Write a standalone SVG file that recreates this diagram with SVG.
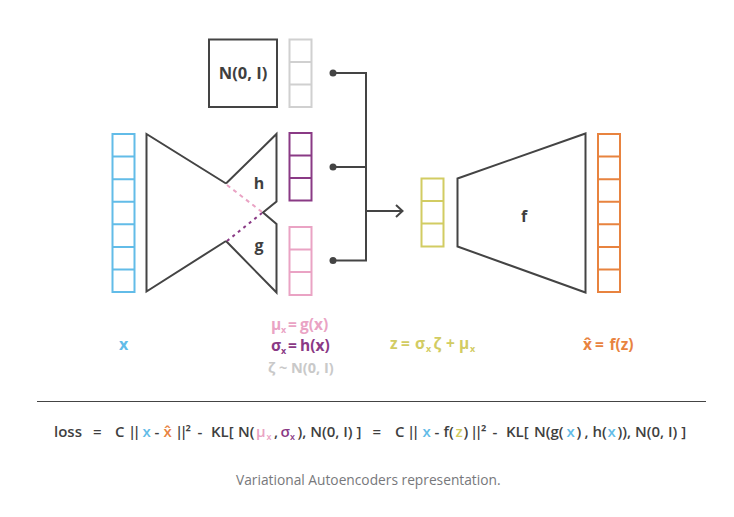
<svg xmlns="http://www.w3.org/2000/svg" width="734" height="517" viewBox="0 0 734 517">
<style>
text{font-family:"Open Sans","Noto Sans",sans-serif;font-weight:600;font-size:15px;fill:#3f3f3f}
.b{fill:#62bce8}.o{fill:#e8833f}.p{fill:#eaa3c4}.m{fill:#8a3a85}.g{fill:#c9c9c9}.y{fill:#d2cc62}
.s{font-size:9px}
.l{font-weight:700;font-size:15.5px}
.n{font-weight:700;font-size:16px}
.v{letter-spacing:-3.750px}
.shape{fill:none;stroke:#444;stroke-width:2}
.cell{fill:none;stroke-width:2}
.wire{fill:none;stroke:#444;stroke-width:2}
</style>
<g id="node-x"><path class="cell" stroke="#62bce8" d="M112.500 134h22v158h-22zM112.500 156.600h22M112.500 179.200h22M112.500 201.700h22M112.500 224.300h22M112.500 246.900h22M112.500 269.400h22"/></g>
<g id="node-encoder"><path class="shape" d="M226 183.500L146.500 134V291.500L226 241"/><path class="shape" d="M226 183.500L276.500 134V201.500L263 212.500L276.500 224V292.500L226 241"/>
<path fill="none" stroke="#eaa3c4" stroke-width="2" stroke-dasharray="4 4" d="M227 185L262 212"/><path fill="none" stroke="#8a3a85" stroke-width="2" stroke-dasharray="3 4" d="M227 241L262 213"/>
<text class="n" x="259" y="189" text-anchor="middle">h</text><text class="n" x="259" y="251" text-anchor="middle">g</text></g>
<g id="node-noise"><rect class="shape" x="209" y="39.500" width="68" height="67.500"/><text class="l" style="font-size:16.500px" x="243" y="79" text-anchor="middle">N(0, I)</text></g>
<g id="node-zeta"><path class="cell" stroke="#d0d0d0" d="M289.500 39.500h22v67.500h-22zM289.500 62h22M289.500 84.500h22"/></g>
<g id="node-sigma"><path class="cell" stroke="#8a3a85" d="M289.500 133h22v67.500h-22zM289.500 155.500h22M289.500 178h22"/></g>
<g id="node-mu"><path class="cell" stroke="#eaa3c4" d="M289.500 227h22v68h-22zM289.500 249.500h22M289.500 272h22"/></g>
<g id="connectors"><path class="wire" d="M333 73H366V260.500H333M333 167H366M366 211H402M396 205L402.500 211L396 217"/>
<circle cx="333" cy="73" r="3.500" fill="#444"/><circle cx="333" cy="167" r="3.500" fill="#444"/><circle cx="333" cy="260.500" r="3.500" fill="#444"/></g>
<g id="node-z"><path class="cell" stroke="#d2cc62" d="M421.500 178.500h22v68h-22zM421.500 201h22M421.500 223.500h22"/></g>
<g id="node-decoder"><path class="shape" d="M457.500 178.500L585.500 133.500V292.500L457.500 246.500Z"/><text class="n" x="524" y="222" text-anchor="middle">f</text></g>
<g id="node-xhat"><path class="cell" stroke="#e8833f" d="M598 134h22v158h-22zM598 156.600h22M598 179.200h22M598 201.700h22M598 224.300h22M598 246.900h22M598 269.400h22"/></g>
<g id="labels">
<text class="b n" x="123.500" y="350" text-anchor="middle">x</text>
<text class="p l" x="271" y="330">μ<tspan class="s" x="281" y="333">x</tspan><tspan x="288" y="330">=</tspan><tspan x="300">g(x)</tspan></text>
<text class="m l" x="271" y="350.500">σ<tspan class="s" x="281" y="353.500">x</tspan><tspan x="288" y="350.500">=</tspan><tspan x="300">h(x)</tspan></text>
<text class="g l" style="font-size:14.500px" x="268" y="372.500">ζ ~ N(0, I)</text>
<text class="y l" x="390" y="348.500">z<tspan x="401">=</tspan><tspan x="415">σ</tspan><tspan class="s" x="426" y="352">x</tspan><tspan x="433.500" y="348.500">ζ</tspan><tspan x="446">+</tspan><tspan x="459">μ</tspan><tspan class="s" x="470" y="352">x</tspan></text>
<text class="o l" x="583" y="350">x̂<tspan x="595">=</tspan><tspan x="609.500">f(z)</tspan></text>
</g>
<path d="M37 401.500H706" stroke="#444" stroke-width="1" fill="none"/>
<g id="loss">
<text y="437"><tspan x="54">loss</tspan><tspan x="93">=</tspan><tspan x="115">C</tspan><tspan class="v" x="128">||</tspan><tspan class="b" x="142.500">x</tspan><tspan x="154.500">-</tspan><tspan class="o" x="163.500">x̂</tspan><tspan class="v" x="175">||</tspan><tspan x="185.500">²</tspan><tspan x="197.500">-</tspan><tspan x="211">KL[</tspan><tspan x="238">N(</tspan><tspan class="p" x="256">μ</tspan><tspan class="s p" x="266.500" y="440">x</tspan><tspan x="274" y="437">,</tspan><tspan class="m" x="280.500">σ</tspan><tspan class="s m" x="290" y="440">x</tspan><tspan x="297.500" y="437">), N(0, I) ]</tspan><tspan x="372.500">=</tspan><tspan x="395">C</tspan><tspan class="v" x="407">||</tspan><tspan class="b" x="422.500">x</tspan><tspan x="434.500">-</tspan><tspan x="443.500">f(</tspan><tspan class="y" x="455.500">z</tspan><tspan x="463.500">)</tspan><tspan class="v" x="470">||</tspan><tspan x="481">²</tspan><tspan x="492.500">-</tspan><tspan x="506">KL[</tspan><tspan x="534">N(g(</tspan><tspan class="b" x="566.500">x</tspan><tspan x="576.500">)</tspan><tspan x="584.500">,</tspan><tspan x="592.500">h(</tspan><tspan class="b" x="607.500">x</tspan><tspan x="617.500">)), N(0, I) ]</tspan></text>
</g>
<text id="caption" x="236" y="485" style="font-weight:400;font-size:13.750px;fill:#77787b">Variational Autoencoders representation.</text>
</svg>
